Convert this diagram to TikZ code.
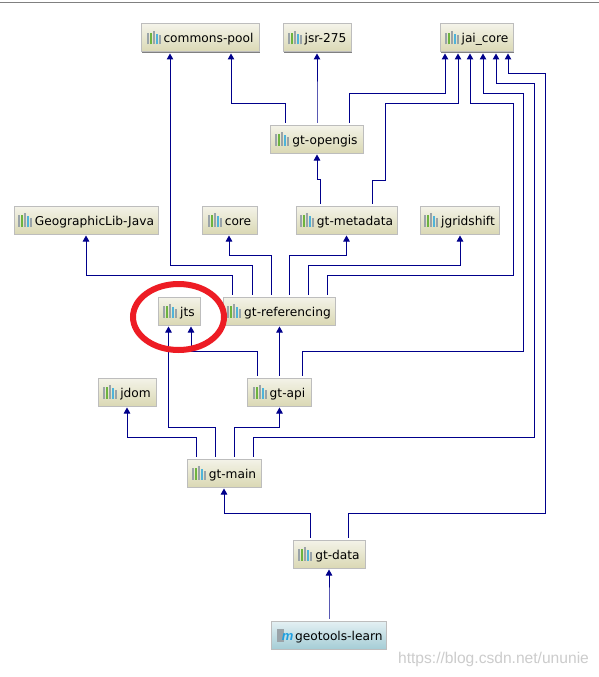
\documentclass[tikz,border=0pt]{standalone}
\usepackage{fontspec}
\setmainfont{DejaVu Sans}
\newfontfamily\wmfont{Liberation Sans}
\usetikzlibrary{arrows.meta,shadows,shapes.geometric}
\definecolor{depblue}{HTML}{00008B}
\definecolor{boxedge}{HTML}{BDBDBD}
\definecolor{barblue}{HTML}{4FB3D9}
\definecolor{mblue}{HTML}{1E9FE0}
\definecolor{bargreen}{HTML}{6DB33F}
\definecolor{bargray}{HTML}{9AA3A8}
\definecolor{circred}{HTML}{ED1C24}
\definecolor{boxtan}{HTML}{DAD8B4}
\definecolor{boxcyan}{HTML}{A5CDD6}
\newcommand\barpiece[2]{\textcolor{#1}{\rule{2pt}{#2pt}}\kern1pt}
\newcommand\jaricon{\raisebox{-1.5pt}{\barpiece{bargray}{11.7}\barpiece{bargreen}{11.7}\barpiece{bargray}{13.3}\barpiece{barblue}{10.7}\barpiece{bargray}{9}}\kern2pt}
\newcommand\pomicon{\rlap{\raisebox{-1.5pt}{\textcolor{bargray}{\rule{7pt}{13pt}}}}\kern4.5pt\textcolor{mblue}{\wmfont\fontsize{13}{13}\selectfont\bfseries\itshape m}\kern1.5pt}
\tikzset{
  x=1pt,y=1pt,
  modbox/.style={draw=boxedge,line width=1pt,inner sep=0pt,minimum height=28pt,
    text height=10pt,text depth=0pt,
    font=\fontsize{12.2}{14}\selectfont,text=black,
    top color=#1!30!white,bottom color=#1,middle color=#1!65!white,
    drop shadow={shadow xshift=1pt,shadow yshift=-1pt,opacity=1,fill=gray}},
  modbox/.default=boxtan,
  dep/.style={draw=depblue,line width=1pt,-{Triangle[length=6pt,width=6.5pt]}},
}
\newcommand\dep[5]{\draw[dep] ([shift={(#2,2)}]#1.north) -- ++(0,#3) -| ([shift={(#5,-1)}]#4.south);}
\begin{document}
\begin{tikzpicture}
\useasboundingbox (0,0) rectangle (599,-677);
\fill[white] (0,0) rectangle (599,-677);
\coordinate (barL) at (0,-2.5);
\coordinate (barR) at (599,-2.5);
\draw[gray,line width=1.2pt] (barL) -- (barR);

\node[modbox,minimum width=118pt] (cp) at (200,-38) {\jaricon commons-pool};
\node[modbox,minimum width=68pt] (jsr) at (317,-38) {\jaricon jsr-275};
\node[modbox,minimum width=73pt] (jai) at (476.5,-38) {\jaricon jai\_core};
\node[modbox,minimum width=93pt] (ogc) at (316.5,-139) {\jaricon gt-opengis};
\node[modbox,minimum width=144pt] (geo) at (86,-220) {\jaricon GeographicLib-Java};
\node[modbox,minimum width=55pt] (core) at (229.5,-220) {\jaricon core};
\node[modbox,minimum width=101pt] (meta) at (346.5,-220) {\jaricon gt-metadata};
\node[modbox,minimum width=79pt] (grid) at (459.5,-220) {\jaricon jgridshift};
\node[modbox,minimum width=42pt] (jts) at (179,-311) {\jaricon jts};
\node[modbox,minimum width=112pt] (ref) at (279,-311) {\jaricon gt-referencing};
\node[modbox,minimum width=58pt] (jdom) at (127,-392) {\jaricon jdom};
\node[modbox,minimum width=64pt] (api) at (279,-392) {\jaricon gt-api};
\node[modbox,minimum width=74pt] (main) at (224,-473) {\jaricon gt-main};
\node[modbox,minimum width=72pt] (data) at (329,-554) {\jaricon gt-data};
\node[modbox=boxcyan,minimum width=115pt] (learn) at (328.5,-635) {\kern3pt\pomicon geotools-learn};

\dep{ogc}{-31.5}{19}{cp}{31}
\dep{ogc}{0.5}{19}{jsr}{0}
\dep{ogc}{32.5}{29}{jai}{-31.5}
\dep{meta}{-26}{24}{ogc}{0.5}
\draw[dep] ([shift={(25.5,2)}]meta.north) -- ++(0,23) -- ++(13,0) -- ++(0,77) -| ([shift={(-18.5,-1)}]jai.south);
\dep{ref}{-47}{19}{geo}{0}
\dep{ref}{-27}{29}{cp}{-30}
\dep{ref}{-8}{39}{core}{-0.5}
\dep{ref}{10}{39}{meta}{0}
\dep{ref}{29}{29}{grid}{0.5}
\draw[dep] ([shift={(48,2)}]ref.north) -- ++(0,19) -- ++(186,0) -- ++(0,172) -| ([shift={(-6.5,-1)}]jai.south);
\draw[dep] ([shift={(23,2)}]api.north) -- ++(0,24) -- ++(221,0) -- ++(0,258) -| ([shift={(6.5,-1)}]jai.south);
\dep{api}{0.5}{24}{ref}{0.5}
\dep{api}{-22}{24}{jts}{12}
\dep{main}{-28}{19}{jdom}{0}
\dep{main}{-9}{29}{jts}{-10.5}
\dep{main}{10}{29}{api}{0.5}
\draw[dep] ([shift={(29,2)}]main.north) -- ++(0,19) -- ++(281,0) -- ++(0,354) -| ([shift={(19.5,-1)}]jai.south);
\dep{data}{-19}{24}{main}{0}
\draw[dep] ([shift={(19,2)}]data.north) -- ++(0,24) -- ++(197,0) -- ++(0,440) -| ([shift={(31.5,-1)}]jai.south);
\dep{learn}{0.5}{19}{data}{0}

\node[draw=circred,line width=6pt,ellipse,minimum width=91pt,minimum height=66pt,inner sep=0pt] (mark) at (178.5,-317) {};
\node[text=black!20,font=\wmfont\fontsize{15.6}{17}\selectfont,inner sep=0pt] (wm) at (493.5,-659) {https://blog.csdn.net/ununie};
\end{tikzpicture}
\end{document}
